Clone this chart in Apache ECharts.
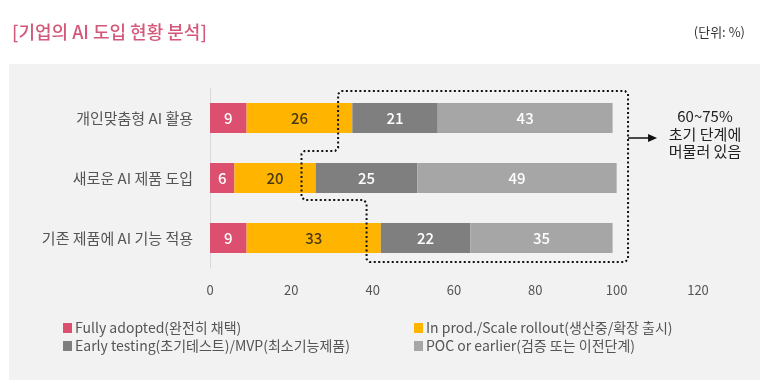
<!DOCTYPE html>
<html>
<head>
<meta charset="utf-8">
<script src="https://cdn.jsdelivr.net/npm/echarts@6/dist/echarts.min.js"></script>
<style>
html,body{margin:0;padding:0;background:#fff;}
#c{width:770px;height:390px;}
</style>
</head>
<body>
<div id="c"></div>
<script>
var categories = ['개인맞춤형 AI 활용', '새로운 AI 제품 도입', '기존 제품에 AI 기능 적용'];
var seriesNames = ['Fully adopted(완전히 채택)', 'In prod./Scale rollout(생산중/확장 출시)', 'Early testing(초기테스트)/MVP(최소기능제품)', 'POC or earlier(검증 또는 이전단계)'];
var fullyAdopted = [9, 6, 9];
var inProd = [26, 20, 33];
var earlyTesting = [21, 25, 22];
var pocEarlier = [43, 49, 35];
var xTicks = [0, 20, 40, 60, 80, 100, 120];
var colors = ['#dc4f6e', '#ffb400', '#7f7f7f', '#a6a6a6'];
var labelColors = ['#ffffff', '#4a3a12', '#ffffff', '#ffffff'];
var annotationText = '60~75%\n초기 단계에\n머물러 있음';

var font = '"Noto Sans CJK KR", "Noto Sans", sans-serif';
var chart = echarts.init(document.getElementById('c'));
var dataSets = [fullyAdopted, inProd, earlyTesting, pocEarlier];

var series = dataSets.map(function (d, i) {
  return {
    name: seriesNames[i],
    type: 'bar',
    stack: 'total',
    barWidth: 30,
    data: d,
    itemStyle: { color: colors[i] },
    label: {
      show: true,
      position: 'inside',
      color: labelColors[i],
      fontSize: 15,
      fontWeight: 500,
      fontFamily: font
    },
    emphasis: { disabled: true },
    silent: true
  };
});

chart.setOption({
  animation: false,
  backgroundColor: '#ffffff',
  graphic: [
    { id: 'panel', type: 'rect', z: -10, shape: { x: 9, y: 64, width: 751, height: 316 }, style: { fill: '#f2f2f2' } },
    { id: 'title', type: 'text', x: 12, y: 32, style: { text: '[기업의 AI 도입 현황 분석]', fill: '#d4587a', font: '500 18px ' + font, verticalAlign: 'middle' } },
    { id: 'unit', type: 'text', x: 745, y: 32, style: { text: '(단위: %)', fill: '#333333', font: '13px ' + font, align: 'right', verticalAlign: 'middle' } }
  ],
  grid: { left: 210, right: 72, top: 88, bottom: 122 },
  xAxis: {
    type: 'value',
    min: 0,
    max: 120,
    interval: 20,
    axisLine: { show: false },
    axisTick: { show: false },
    splitLine: { show: false },
    axisLabel: {
      color: '#555555', fontSize: 13, fontFamily: font, margin: 16,
      formatter: function (v) { return xTicks.indexOf(v) >= 0 ? String(v) : ''; }
    }
  },
  yAxis: {
    type: 'category',
    inverse: true,
    data: categories,
    axisLine: { show: true, lineStyle: { color: '#d9d9d9', width: 1 } },
    axisTick: { show: false },
    axisLabel: { color: '#555555', fontSize: 15, fontFamily: font, margin: 17 }
  },
  legend: [
    {
      left: 58, top: 316, orient: 'vertical', itemGap: 4, itemWidth: 9, itemHeight: 10,
      icon: 'rect', data: [seriesNames[0], seriesNames[2]],
      textStyle: { color: '#555555', fontSize: 14, fontFamily: font, padding: [0, 0, 0, -2] },
      selectedMode: false
    },
    {
      left: 409, top: 316, orient: 'vertical', itemGap: 4, itemWidth: 9, itemHeight: 10,
      icon: 'rect', data: [seriesNames[1], seriesNames[3]],
      textStyle: { color: '#555555', fontSize: 14, fontFamily: font, padding: [0, 0, 0, -2] },
      selectedMode: false
    }
  ],
  series: series
});

// Annotation: dotted outline around the early-stage segments
function px(x, cat) { return chart.convertToPixel({ gridIndex: 0 }, [x, cat]); }
var r0 = px(31.5, 0), r1 = px(22.5, 1), r2 = px(38.5, 2);
var rightX = px(102.8, 0)[0];
var yTop = r0[1] - 27, yMid1 = r0[1] + 33, yMid2 = r1[1] + 22, yBot = r2[1] + 24;
var c = 3;
var pts = [
  [r0[0], yTop + c], [r0[0] + c, yTop],
  [rightX - c, yTop], [rightX, yTop + c],
  [rightX, yBot - c], [rightX - c, yBot],
  [r2[0] + c, yBot], [r2[0], yBot - c],
  [r2[0], yMid2 + c], [r2[0] - c, yMid2],
  [r1[0] + c, yMid2], [r1[0], yMid2 - c],
  [r1[0], yMid1 + c], [r1[0] + c, yMid1],
  [r0[0] - c, yMid1], [r0[0], yMid1 - c],
  [r0[0], yTop + c]
];
var arrowY = r0[1] + 20;
chart.setOption({
  graphic: [
    { id: 'outline', type: 'polyline', z: 100, shape: { points: pts }, style: { fill: null, stroke: '#111111', lineWidth: 2, lineDash: [2, 2.5] } },
    { id: 'arrowLine', type: 'line', z: 100, shape: { x1: rightX, y1: arrowY, x2: rightX + 22, y2: arrowY }, style: { stroke: '#111111', lineWidth: 1.5 } },
    { id: 'arrowHead', type: 'polygon', z: 100, shape: { points: [[rightX + 29, arrowY], [rightX + 20, arrowY - 4], [rightX + 20, arrowY + 4]] }, style: { fill: '#111111' } },
    { id: 'note', type: 'text', z: 100, x: 705, y: arrowY - 30, style: { text: annotationText, fill: '#222222', font: '15px ' + font, align: 'center', verticalAlign: 'top', lineHeight: 17.5 } }
  ]
});
</script>
</body>
</html>
